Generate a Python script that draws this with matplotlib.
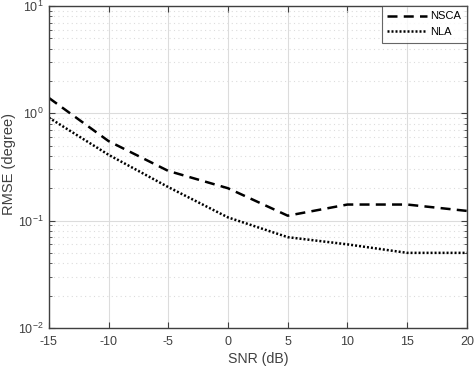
import matplotlib.pyplot as plt
from matplotlib.ticker import LogLocator, NullFormatter

plt.rcParams['font.family'] = ['Liberation Sans', 'DejaVu Sans']
plt.rcParams['axes.unicode_minus'] = False
plt.rcParams['mathtext.fontset'] = 'custom'
plt.rcParams['mathtext.rm'] = 'Liberation Sans'
plt.rcParams['mathtext.it'] = 'Liberation Sans:italic'
plt.rcParams['mathtext.bf'] = 'Liberation Sans:bold'

# values
snr = [-15, -10, -5, 0, 5, 10, 15, 20]
rmse_nsca = [1.39, 0.55, 0.29, 0.20, 0.111, 0.141, 0.141, 0.123]
rmse_nla = [0.91, 0.41, 0.205, 0.107, 0.070, 0.060, 0.050, 0.050]

fig = plt.figure(figsize=(4.74, 3.68), dpi=100)
ax = fig.add_axes([0.103, 0.109, 0.882, 0.875])

ax.semilogy(snr, rmse_nsca, color='black', linestyle=(0, (4, 2.5)), linewidth=1.8, label='NSCA')
ax.semilogy(snr, rmse_nla, color='black', linestyle=(0, (0.8, 0.8)), linewidth=1.8, label='NLA')

ax.set_xlim(-15, 20)
ax.set_ylim(1e-2, 1e1)
ax.set_xticks(snr)
ax.yaxis.set_major_locator(LogLocator(base=10, numticks=10))
ax.yaxis.set_minor_locator(LogLocator(base=10, subs=range(2, 10), numticks=10))
ax.yaxis.set_minor_formatter(NullFormatter())

ax.grid(True, which='major', color='#dcdcdc', linewidth=0.8)
ax.grid(True, which='minor', axis='y', color='#dcdcdc', linestyle=(0, (1, 3)), linewidth=0.8)
ax.set_axisbelow(True)

ax.tick_params(which='both', direction='in', top=True, right=True, labelsize=9, colors='#404040')
ax.tick_params(which='major', length=4)
ax.tick_params(which='minor', length=2)
ax.tick_params(axis='x', pad=6)
ax.tick_params(axis='y', pad=4)
for sp in ax.spines.values():
    sp.set_color('#404040')
    sp.set_linewidth(1.0)

ax.set_xlabel('SNR (dB)', fontsize=10.2, color='#404040', labelpad=3)
ax.set_ylabel('RMSE (degree)', fontsize=10.5, color='#404040')
ax.yaxis.set_label_coords(-0.079, 0.51)

leg = ax.legend(loc='upper right', fontsize=8, frameon=True, fancybox=False,
                edgecolor='#404040', borderaxespad=0.0, handlelength=3.6,
                borderpad=0.5, labelspacing=0.5, handletextpad=0.3)
leg.get_frame().set_linewidth(0.8)

fig.savefig('out.png', dpi=100)
